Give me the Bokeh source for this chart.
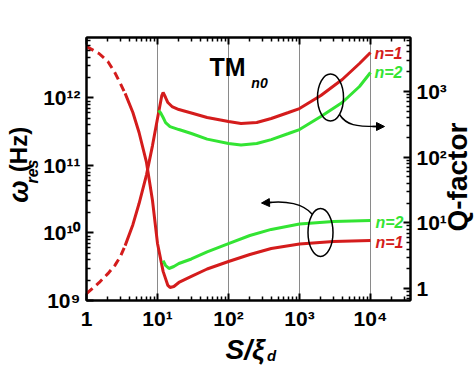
import numpy as np
from bokeh.plotting import figure
from bokeh.models import (Range1d, LogScale, LogAxis, FixedTicker, CustomJSTickFormatter,
                          Label, Arrow, NormalHead)
from bokeh.embed import file_html
from bokeh.resources import INLINE

# ---------------- data ----------------
# Q-factor, n=1 (red); first 6 points dashed
S_q1 = [1, 1.5, 2, 2.5, 3, 3.5, 4.5, 5.5, 7, 8.5, 10, 11.5, 12, 13, 14, 16, 20, 30, 50,
        100, 150, 250, 400, 700, 1000, 2000, 4000, 7000, 10000]
Q1 = [0.84, 1.23, 1.69, 2.24, 3.07, 4.51, 9.4, 19.7, 54, 150, 387, 866, 962, 808, 678, 589,
      530, 469, 401, 348, 325, 336, 387, 478, 549, 866, 1518, 2660, 3910]
# Q-factor, n=2 (green)
S_q2 = [10.3, 11, 12, 13, 15, 20, 30, 50, 100, 150, 250, 400, 700, 1000, 2000, 4000, 7000, 10000]
Q2 = [512, 478, 401, 336, 292, 263, 229, 188, 161, 153, 161, 185, 229, 263, 415, 678, 1188, 1940]
# omega_res, n=1 (red); first 6 points dashed
S_w1 = [1, 1.5, 2, 2.5, 3, 3.5, 4.5, 5.5, 7, 8.5, 10, 12, 14, 15, 17, 20, 30, 50, 100, 200,
        400, 1000, 3000, 10000]
W1 = [5.8e12, 4.56e12, 3.47e12, 2.39e12, 1.64e12, 1.17e12, 6.1e11, 3.08e11, 1.11e11, 3.03e10,
      7.0e9, 2.7e9, 1.67e9, 1.56e9, 1.61e9, 1.85e9, 2.27e9, 2.93e9, 3.78e9, 4.80e9, 5.89e9,
      6.87e9, 7.48e9, 7.74e9]
# omega_res, n=2 (green)
S_w2 = [12, 13, 14.5, 17, 20, 30, 50, 100, 200, 400, 1000, 3000, 10000]
W2 = [3.9e9, 3.30e9, 2.98e9, 3.19e9, 3.53e9, 4.12e9, 5.24e9, 6.98e9, 9.18e9, 1.13e10,
      1.36e10, 1.48e10, 1.53e10]
N_DASH = 6

x_ticks = [1, 10, 100, 1000, 10000]
w_ticks = [1e9, 1e10, 1e11, 1e12]
q_ticks = [1, 10, 100, 1000]

# ---------------- styling / layout ----------------
RED = "#d41c1c"
GREEN = "#33e433"
FONT = "Liberation Sans"
XR = (1, 36600)
WR = (1e9, 7.87e12)
QR = (0.66, 6610)
FL, FR, FT, FB = 86, 410, 37, 300  # frame in page pixels


def X(px):
    return 10 ** (np.log10(XR[0]) + (px - FL) / (FR - FL) * (np.log10(XR[1]) - np.log10(XR[0])))


def Y(py):
    return 10 ** (np.log10(WR[0]) + (FB - py) / (FB - FT) * (np.log10(WR[1]) - np.log10(WR[0])))


def minors(lo, hi):
    out = []
    for e in range(int(np.floor(np.log10(lo))) - 1, int(np.ceil(np.log10(hi))) + 1):
        for k in range(2, 10):
            v = k * 10.0 ** e
            if lo <= v <= hi:
                out.append(v)
    return out


p = figure(frame_width=FR - FL, frame_height=FB - FT,
           x_axis_type="log", y_axis_type="log",
           x_range=Range1d(*XR), y_range=Range1d(*WR),
           output_backend="svg", toolbar_location=None,
           min_border_left=FL, min_border_right=474 - FR,
           min_border_top=FT, min_border_bottom=64,
           background_fill_color="white", border_fill_color="white")
p.outline_line_color = "black"
p.outline_line_width = 2

p.extra_y_ranges = {"q": Range1d(*QR)}
p.extra_y_scales = {"q": LogScale()}

bottom = p.below[0]
left = p.left[0]
right = LogAxis(y_range_name="q")
top = LogAxis()
p.add_layout(right, "right")
p.add_layout(top, "above")

fmt_code = """
const e = Math.round(Math.log10(tick));
if (e === 0) return '1';
const sup = {'0':'\u2070','1':'\u00b9','2':'\u00b2','3':'\u00b3','4':'\u2074','5':'\u2075',
             '6':'\u2076','7':'\u2077','8':'\u2078','9':'\u2079','-':'\u207b'};
return '10' + String(e).split('').map(c => sup[c]).join('');
"""

bottom.ticker = FixedTicker(ticks=x_ticks, minor_ticks=minors(*XR))
top.ticker = FixedTicker(ticks=x_ticks, minor_ticks=minors(*XR))
left.ticker = FixedTicker(ticks=w_ticks, minor_ticks=minors(*WR))
right.ticker = FixedTicker(ticks=q_ticks, minor_ticks=minors(*QR))

for ax in [bottom, top, left, right]:
    ax.formatter = CustomJSTickFormatter(code=fmt_code)
    ax.axis_line_width = 2
    ax.axis_line_color = "black"
    ax.major_tick_in = 7
    ax.major_tick_out = 0
    ax.minor_tick_in = 4
    ax.minor_tick_out = 0
    ax.major_tick_line_width = 2
    ax.minor_tick_line_width = 1.5
    ax.major_label_text_font = FONT
    ax.major_label_text_font_style = "bold"
    ax.major_label_text_font_size = "21px"
    ax.major_label_text_color = "black"
    ax.major_label_standoff = 6
top.formatter = CustomJSTickFormatter(code="return '';")
top.major_label_text_font_size = "1px"
top.major_label_standoff = 0


# ---- axis titles as single-tick label axes (text outside the frame) ----
def title_axis(side, pos, text, size, style, standoff, orient):
    ax = LogAxis()
    ax.ticker = FixedTicker(ticks=[pos], minor_ticks=[])
    ax.formatter = CustomJSTickFormatter(code="return %r;" % text)
    ax.axis_line_color = None
    ax.major_tick_line_color = None
    ax.minor_tick_line_color = None
    ax.major_tick_in = 0
    ax.major_tick_out = 0
    ax.major_label_standoff = standoff
    ax.major_label_orientation = orient
    ax.major_label_text_font = FONT
    ax.major_label_text_font_style = style
    ax.major_label_text_font_size = size
    ax.major_label_text_color = "black"
    p.add_layout(ax, side)
    return ax


# bottom: S/xi_d
title_axis("below", X(244.5), "S/\u03be", "28px", "bold italic", 1, "horizontal")
title_axis("below", X(271), "d", "15px", "bold italic", -21, "horizontal")
# left: omega_res (Hz)
title_axis("left", Y(171), "res", "16px", "bold italic", 0, "vertical")
title_axis("left", Y(149), "(Hz)", "24px", "bold", -11, "vertical")
title_axis("left", Y(191), "\u03c9", "27px", "bold italic", -32, "vertical")
# right: Q-factor (reads bottom to top)
title_axis("right", Y(231), "Q-factor", "28px", "bold", 8, np.pi / 2)

p.xgrid.ticker = FixedTicker(ticks=[10, 100, 1000, 10000])
p.xgrid.grid_line_color = "#8a8a8a"
p.xgrid.grid_line_width = 1
p.ygrid.grid_line_color = None

# ---------------- curves ----------------
LW = 3
p.line(S_q1[:N_DASH], Q1[:N_DASH], y_range_name="q", line_color=RED, line_width=LW, line_dash="8 5")
p.line(S_q1[N_DASH - 1:], Q1[N_DASH - 1:], y_range_name="q", line_color=RED, line_width=LW)
p.line(S_q2, Q2, y_range_name="q", line_color=GREEN, line_width=LW)
p.line(S_w1[:N_DASH], W1[:N_DASH], line_color=RED, line_width=LW, line_dash="8 5")
p.line(S_w1[N_DASH - 1:], W1[N_DASH - 1:], line_color=RED, line_width=LW)
p.line(S_w2, W2, line_color=GREEN, line_width=LW)


# ---------------- annotations inside the frame ----------------
def lab(px, py, text, size, style="bold", color="black", align="center"):
    p.add_layout(Label(x=X(px), y=Y(py), text=text, text_font=FONT, text_font_style=style,
                       text_font_size=size, text_color=color, text_align=align,
                       text_baseline="middle"))


lab(227, 66, "TM", "25px")
lab(259, 82, "n0", "14px", "bold italic")
lab(374, 53, "n=1", "16px", "bold italic", RED, "left")
lab(374, 72, "n=2", "16px", "bold italic", GREEN, "left")
lab(375, 222, "n=2", "16px", "bold italic", GREEN, "left")
lab(375, 242, "n=1", "16px", "bold italic", RED, "left")

# ellipses and arrows
p.ellipse(x=[X(330)], y=[Y(97)], width=26, height=47, width_units="screen", height_units="screen",
          fill_color=None, line_color="black", line_width=1.5)
p.ellipse(x=[X(320)], y=[Y(232)], width=25, height=48, width_units="screen", height_units="screen",
          fill_color=None, line_color="black", line_width=1.5)
p.bezier(x0=[X(339)], y0=[Y(114)], x1=[X(376)], y1=[Y(126)],
         cx0=[X(346)], cy0=[Y(125)], cx1=[X(356)], cy1=[Y(126)],
         line_color="black", line_width=1.5)
p.add_layout(Arrow(end=NormalHead(size=8, fill_color="black", line_color="black"),
                   x_start=X(372), y_start=Y(126), x_end=X(384), y_end=Y(126),
                   line_color="black", line_width=1.5))
p.bezier(x0=[X(312)], y0=[Y(214)], x1=[X(268)], y1=[Y(202)],
         cx0=[X(303)], cy0=[Y(203)], cx1=[X(285)], cy1=[Y(200)],
         line_color="black", line_width=1.5)
p.add_layout(Arrow(end=NormalHead(size=8, fill_color="black", line_color="black"),
                   x_start=X(271), y_start=Y(202), x_end=X(261), y_end=Y(202.5),
                   line_color="black", line_width=1.5))

open("out.html", "w").write(file_html(p, INLINE))
